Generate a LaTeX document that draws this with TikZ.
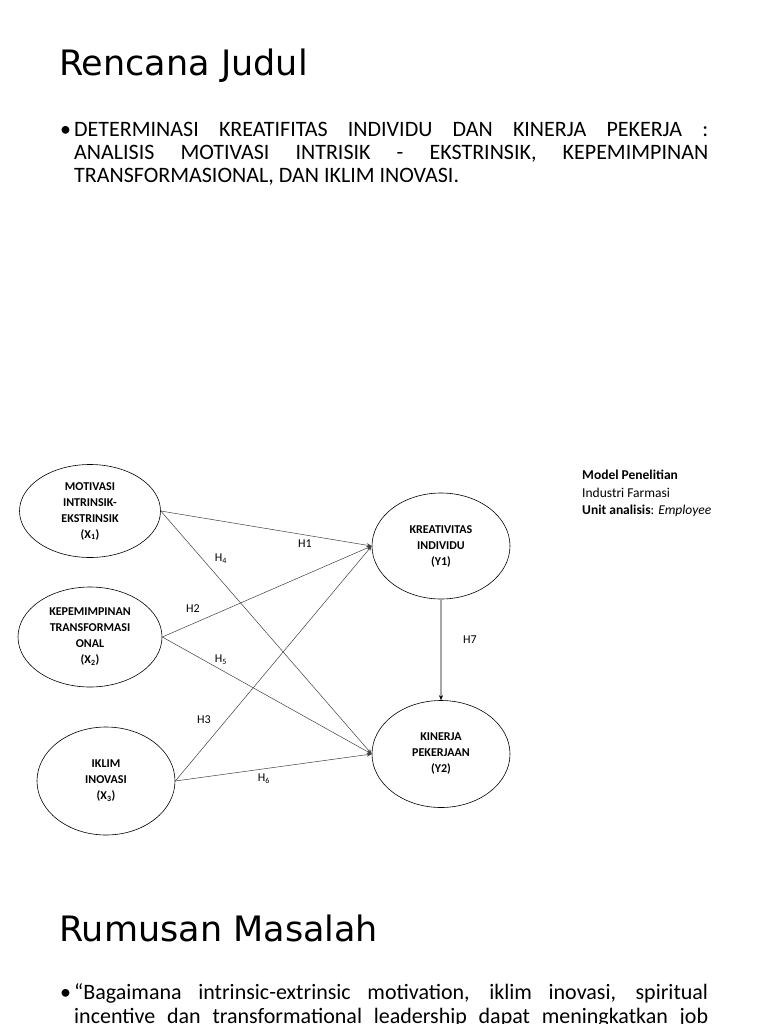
\documentclass[tikz,border=0pt]{standalone}
\usepackage{fontspec}
\setmainfont{Carlito}
\newfontfamily\dejavu{DejaVu Sans}
\usetikzlibrary{shapes.geometric,arrows.meta}
\begin{document}
\begin{tikzpicture}[x=1pt,y=-1pt,
  lat/.style={ellipse,draw=black,line width=0.6pt,inner sep=0pt,align=center,
     font=\bfseries\fontsize{12}{16}\selectfont},
  conn/.style={draw=black!75,line width=0.5pt,-{Stealth[length=5pt,width=4pt]}},
  hlab/.style={font=\fontsize{12}{14}\selectfont,inner sep=0pt},
  head/.style={anchor=base west,inner sep=0pt,font=\dejavu\fontsize{35}{40}\selectfont},
  body/.style={anchor=base west,inner sep=0pt,font=\fontsize{22}{24}\selectfont},
  side/.style={anchor=base west,inner sep=0pt,font=\fontsize{13.5}{17}\selectfont}]
\clip (0,0) rectangle (768,1024);
\useasboundingbox (0,0) rectangle (768,1024);
\fill[white] (0,0) rectangle (768,1024);
% heading
\node[head] (t1) at (59,76) {Rencana Judul};
\node[body] (b1) at (60,137) {•};
\node[body] (l1) at (74,137) {\makebox[634pt][s]{DETERMINASI KREATIFITAS INDIVIDU DAN KINERJA PEKERJA :}};
\node[body] (l2) at (74,160) {\makebox[634pt][s]{ANALISIS MOTIVASI INTRISIK - EKSTRINSIK, KEPEMIMPINAN}};
\node[body] (l3) at (74,183) {TRANSFORMASIONAL, DAN IKLIM INOVASI.};
% side text
\node[side] (s1) at (582,479) {\textbf{Model Penelitian}};
\node[side] (s2) at (582,497) {Industri Farmasi};
\node[side] (s3) at (582,514) {\textbf{Unit analisis}: \textit{Employee}};
% ellipses
\node[lat,minimum width=141pt,minimum height=93pt] (x1) at (90,511)
  {MOTIVASI\\INTRINSIK-\\EKSTRINSIK\\(X\textsubscript{1})};
\node[lat,minimum width=144pt,minimum height=100pt] (x2) at (90,637)
  {KEPEMIMPINAN\\TRANSFORMASI\\ONAL\\(X\textsubscript{2})};
\node[lat,minimum width=138pt,minimum height=108pt] (x3) at (106,781)
  {IKLIM\\INOVASI\\(X\textsubscript{3})};
\node[lat,minimum width=138pt,minimum height=106pt] (y1) at (441,546)
  {KREATIVITAS\\INDIVIDU\\(Y1)};
\node[lat,minimum width=138pt,minimum height=107pt] (y2) at (441,754)
  {KINERJA\\PEKERJAAN\\(Y2)};
% connectors
\draw[conn] (x1.east) -- (y1.west);
\draw[conn] (x2.east) -- (y1.west);
\draw[conn] (x3.east) -- (y1.west);
\draw[conn] (x1.east) -- (y2.west);
\draw[conn] (x2.east) -- (y2.west);
\draw[conn] (x3.east) -- (y2.west);
\draw[draw=black!35,line width=1.3pt,-{Stealth[length=5pt,width=4pt,color=black,fill=black,line width=0.4pt]}] (y1.south) -- (y2.north);
% labels
\node[hlab] (h1) at (305,544) {H1};
\node[hlab] (h4) at (221,559) {H\textsubscript{4}};
\node[hlab] (h2) at (193,609) {H2};
\node[hlab] (h5) at (221,660) {H\textsubscript{5}};
\node[hlab] (h3) at (204,720) {H3};
\node[hlab] (h6) at (264,779) {H\textsubscript{6}};
\node[hlab] (h7) at (470,640) {H7};
% second heading
\node[head] (t2) at (59,941) {Rumusan Masalah};
\node[body] (b2) at (60,999) {•};
\node[body] (m1) at (74,999) {\makebox[634pt][s]{“Bagaimana intrinsic-extrinsic motivation, iklim inovasi, spiritual}};
\node[body] (m2) at (74,1023) {\makebox[634pt][s]{incentive dan transformational leadership dapat meningkatkan job}};
\end{tikzpicture}
\end{document}
